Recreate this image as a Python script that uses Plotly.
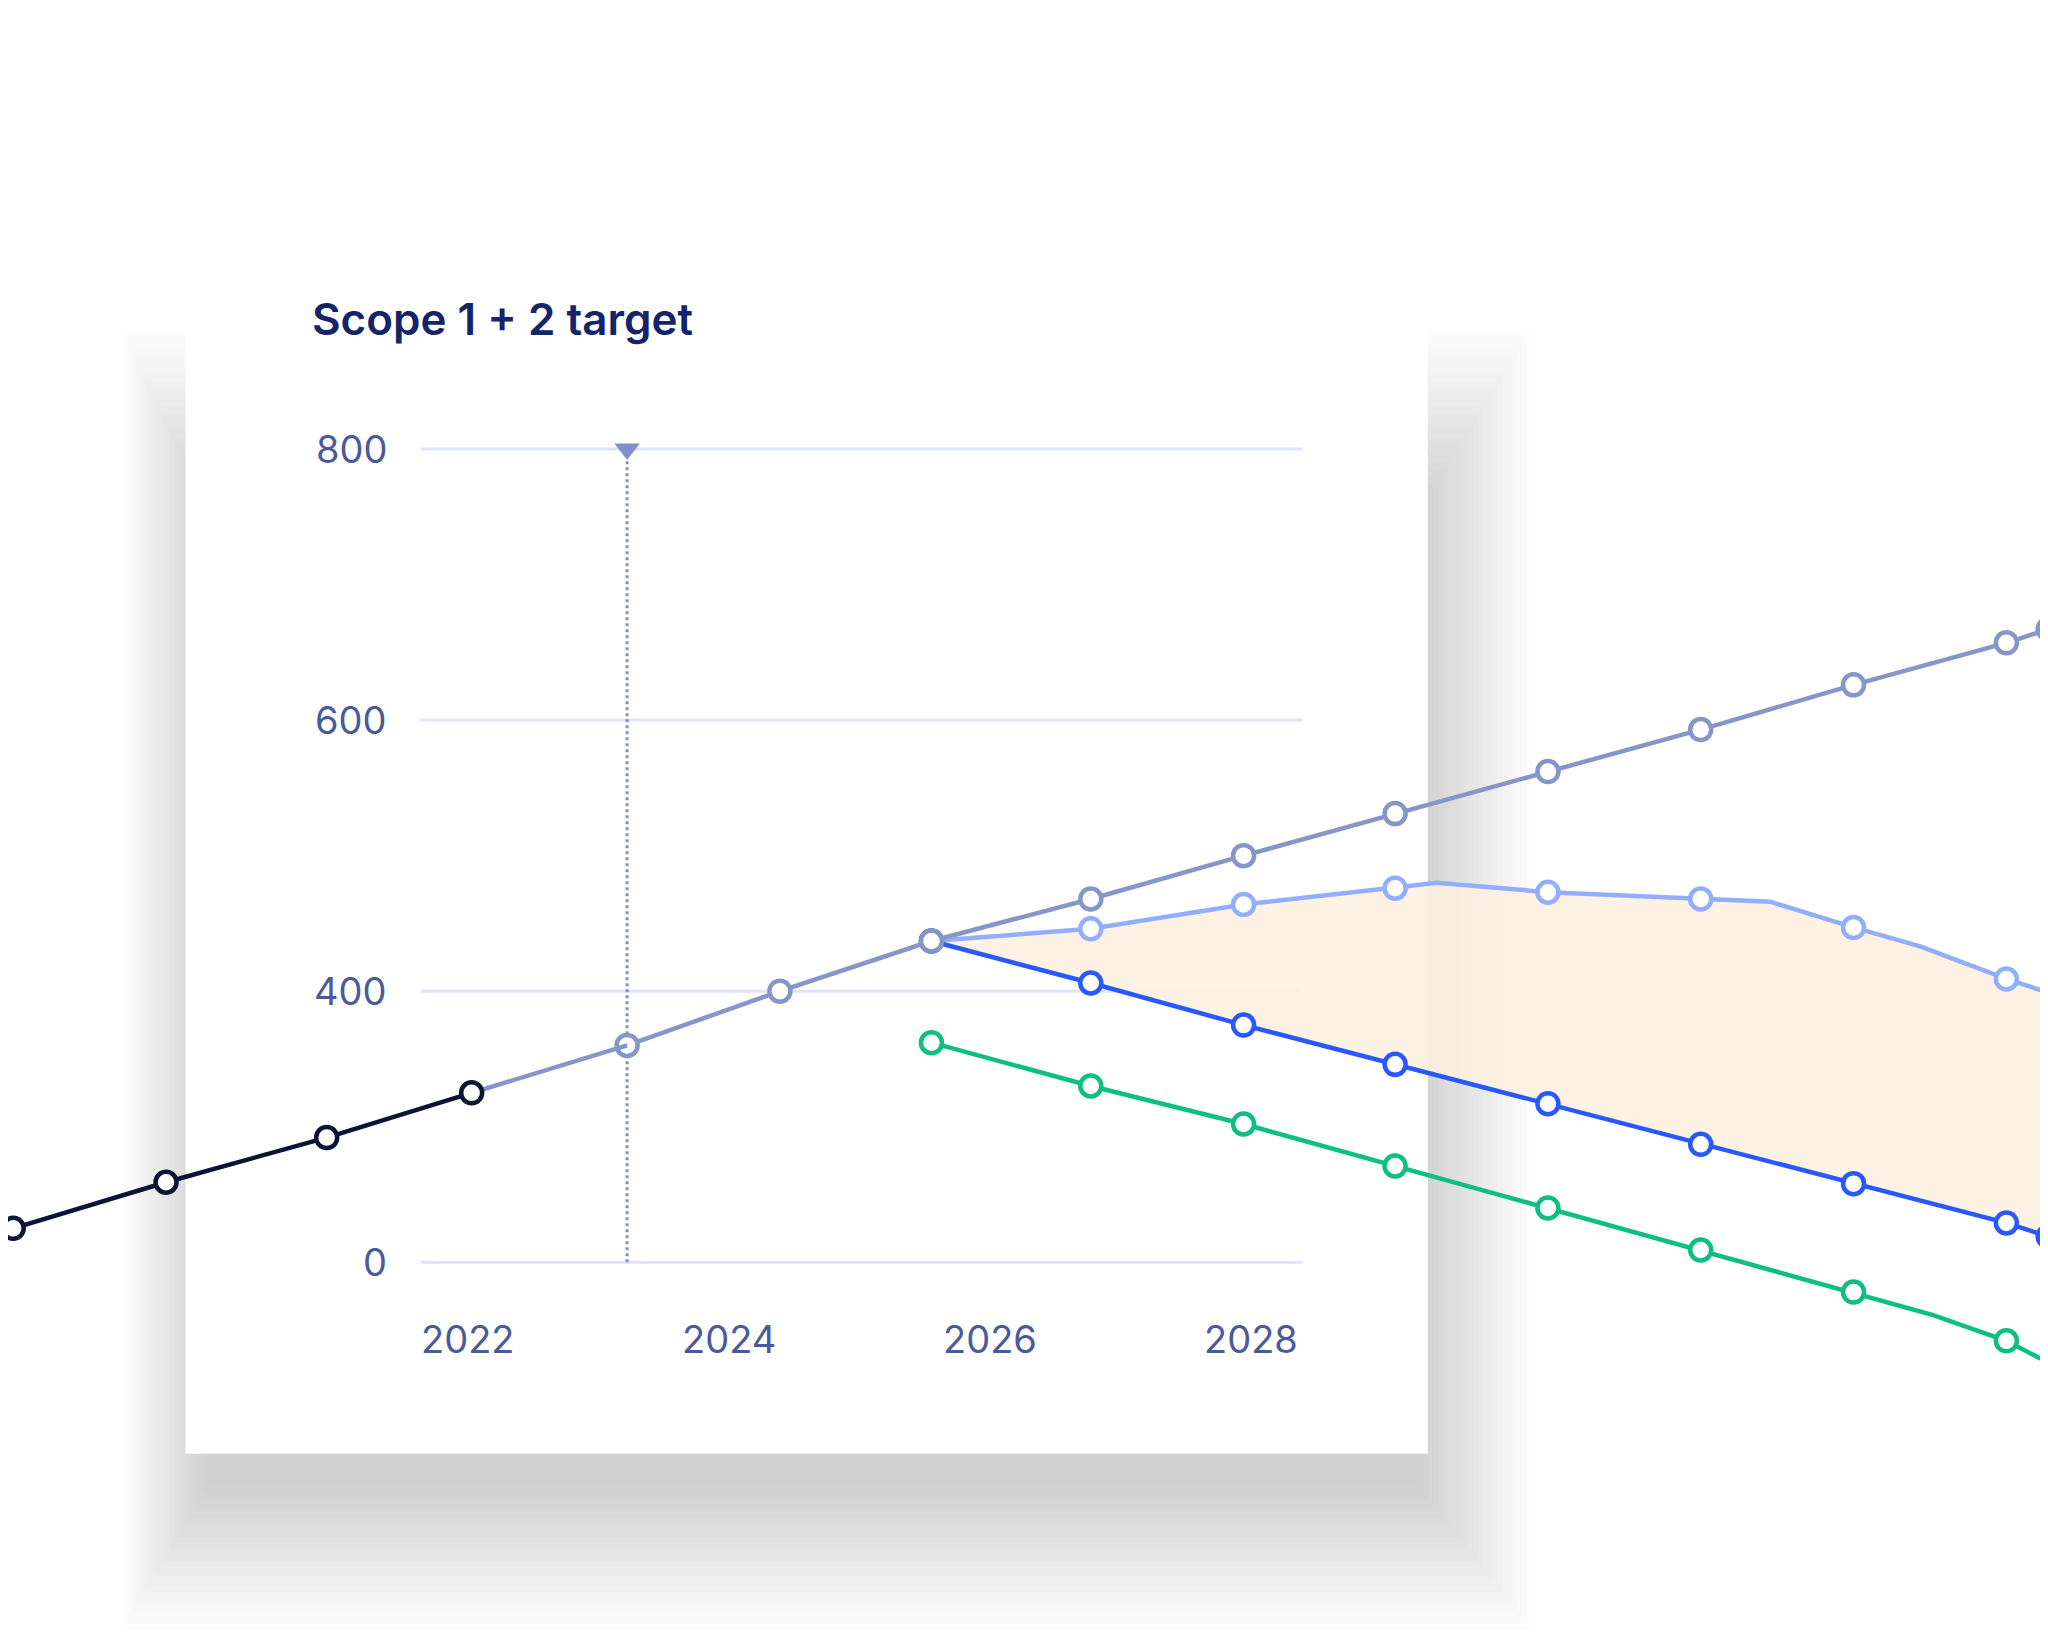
import plotly.graph_objects as go

# values; y is in axis units where tick "0" sits at 200 (broken axis)
hist_x = [2018.52, 2019.69, 2020.92, 2022.03]
hist_y = [225, 259, 292, 325]

base_x = [2022.03, 2023.22, 2024.39, 2025.55, 2026.77, 2027.94, 2029.10, 2030.27, 2031.44, 2032.61, 2033.78, 2034.1]
base_y = [325, 360, 400, 437, 468, 500, 531, 562, 593, 626, 657, 667]

upper_x = [2025.55, 2026.77, 2027.94, 2029.10, 2029.42, 2030.27, 2031.44, 2031.97, 2032.61, 2033.12, 2033.78, 2034.1]
upper_y = [437, 446, 464, 476, 480, 473, 468, 466, 447, 433, 409, 399]
upper_mk = [1, 1, 1, 1, 0, 1, 1, 0, 1, 0, 1, 0]

target_x = [2025.55, 2026.77, 2027.94, 2029.10, 2030.27, 2031.44, 2032.61, 2033.78, 2034.1]
target_y = [437, 406, 375, 346, 317, 287, 258, 229, 219]

green_x = [2025.55, 2026.77, 2027.94, 2029.10, 2030.27, 2031.44, 2032.61, 2033.22, 2033.78, 2034.1]
green_y = [362, 330, 302, 271, 240, 209, 178, 161, 142, 126]
green_mk = [1, 1, 1, 1, 1, 1, 1, 0, 1, 0]

tick_vals = [200, 400, 600, 800]
tick_text = ["0", "400", "600", "800"]
year_ticks = [2022, 2024, 2026, 2028]
marker_year = 2023.22

X0, X1 = 2018.48, 2034.16
Y0, Y1 = -92, 1125.4
card = dict(x0=2019.84, x1=2029.35, y0=58.7, y1=950)
grid_x = (2021.64, 2028.39)


def series(x, y, color, mk=None, **kw):
    sizes = [21 if (mk is None or m) else 0 for m in (mk or x)]
    return go.Scatter(x=x, y=y, mode="lines+markers", line=dict(color=color, width=4.5),
                      marker=dict(size=sizes, color="white", opacity=1,
                                  line=dict(color=color, width=4.5)),
                      opacity=1, hoverinfo="skip", showlegend=False, **kw)


fig = go.Figure()
fig.add_trace(series(upper_x, upper_y, "#93AEFF", upper_mk))
fig.add_trace(series(target_x, target_y, "#2958FF", fill="tonexty", fillcolor="rgba(253,240,222,0.85)"))
fig.add_trace(series(green_x, green_y, "#0DBF80", green_mk))
fig.add_trace(series(base_x[1:], base_y[1:], "#8796C8"))
fig.add_trace(go.Scatter(x=[base_x[0], base_x[1]], y=[base_y[0], base_y[1]], mode="lines",
                         line=dict(color="#8796C8", width=4.5), hoverinfo="skip", showlegend=False))
fig.add_trace(series(hist_x, hist_y, "#0B1533"))
fig.add_trace(go.Scatter(x=[marker_year], y=[800], mode="markers",
                         marker=dict(symbol="triangle-down", size=22, color="#7F8FCC"),
                         hoverinfo="skip", showlegend=False))

shapes = []
# soft shadow under the card: many faint layers growing outward, weighted downward
n = 24
for i in range(n):
    d = (n - i) / n
    shapes.append(dict(type="rect", layer="below", line=dict(width=0),
                       fillcolor="rgba(0,0,0,0.0065)",
                       x0=card["x0"] + 0.2 - d * 0.7, x1=card["x1"] - 0.1 + d * 0.9,
                       y0=card["y0"] - 20 - d * 110, y1=card["y1"] - 200 + d * 140))
shapes.append(dict(type="rect", layer="below", line=dict(width=0), fillcolor="white", **card))
for v in tick_vals:
    shapes.append(dict(type="line", layer="below", x0=grid_x[0], x1=grid_x[1], y0=v, y1=v,
                       line=dict(color="#DDE4FA", width=3)))
shapes.append(dict(type="line", layer="below", x0=marker_year, x1=marker_year, y0=200, y1=793,
                   line=dict(color="#7F8FCC", width=3, dash="dot")))

ann = [dict(x=2020.79, y=896, xanchor="left", yanchor="middle", showarrow=False,
            text="Scope 1 + 2 target",
            font=dict(size=44, color="#14246B", family="Inter", weight=600))]
for v, t in zip(tick_vals, tick_text):
    ann.append(dict(x=2021.4, y=v, xanchor="right", yanchor="middle", showarrow=False, text=t,
                    font=dict(size=38, color="#4A5A9A", family="Inter")))
for yr in year_ticks:
    ann.append(dict(x=yr, y=143, xanchor="center", yanchor="middle", showarrow=False, text=str(yr),
                    font=dict(size=38, color="#4A5A9A", family="Inter")))

fig.update_layout(width=2048, height=1650, margin=dict(l=0, r=0, t=0, b=0),
                  paper_bgcolor="white", plot_bgcolor="white", shapes=shapes, annotations=ann,
                  xaxis=dict(range=[X0, X1], visible=False, fixedrange=True),
                  yaxis=dict(range=[Y0, Y1], visible=False, fixedrange=True))
fig.write_html("out.html")
